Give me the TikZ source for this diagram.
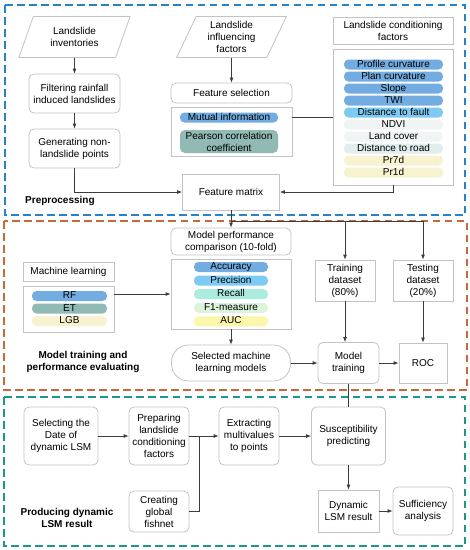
\documentclass[tikz,border=0pt]{standalone}
\usepackage{fontspec}
\setmainfont{Liberation Sans}
\usetikzlibrary{shapes.geometric,arrows.meta}
\definecolor{prepblue}{RGB}{40,130,200}
\definecolor{modelorange}{RGB}{200,105,60}
\definecolor{dynteal}{RGB}{30,150,140}
\definecolor{boxgray}{RGB}{195,195,195}
\definecolor{linegray}{RGB}{60,60,60}
\definecolor{midblue}{RGB}{115,172,225}
\definecolor{skyblue}{RGB}{125,202,242}
\definecolor{slateteal}{RGB}{145,186,180}
\definecolor{mint}{RGB}{172,236,222}
\definecolor{palegreen}{RGB}{220,243,220}
\definecolor{paleyellow}{RGB}{247,242,207}
\definecolor{lightyellow}{RGB}{250,246,172}
\definecolor{offwhite}{RGB}{240,244,244}
\definecolor{paleteal}{RGB}{224,238,236}
\tikzset{
  box/.style={draw=boxgray, fill=white, align=center, inner sep=1pt, line width=0.8pt},
  rbox/.style={box, rounded corners=5pt},
  para/.style={box, trapezium, trapezium left angle=67.5, trapezium right angle=112.5,
    trapezium stretches=true},
  pill/.style={rounded corners=4.5pt, inner sep=0pt, minimum height=10pt,
    text height=7.3pt, text depth=2.2pt},
  stage/.style={dash pattern=on 7.5pt off 4.5pt, line width=1.3pt},
  sectiontitle/.style={font=\bfseries, align=center, inner sep=0pt},
  arr/.style={draw=linegray, line width=0.8pt, -{Latex[length=5pt,width=4pt]}},
  conn/.style={draw=linegray, line width=0.8pt}
}
\begin{document}
\begin{tikzpicture}[x=1pt, y=-1pt]
  \useasboundingbox (0,0) rectangle (470,550);
  % dashed stages
  \draw[stage, prepblue] (5,5) rectangle (465,215);
  \draw[stage, modelorange] (4,221) rectangle (467,390);
  \draw[stage, dynteal] (4,397) rectangle (465,546);

  % preprocessing
  \node[para, minimum width=112, minimum height=41] (inv) at (74.5,37) {Landslide\\inventories};
  \node[rbox, minimum width=91, minimum height=39] (filt) at (74.5,93.5) {Filtering rainfall\\induced landslides};
  \node[rbox, minimum width=91, minimum height=39] (gen) at (74.5,148.5) {Generating non-\\landslide points};
  \node[box, minimum width=97, minimum height=36] (fm) at (231,192) {Feature matrix};
  \node[para, minimum width=110, minimum height=41] (infl) at (231.5,37) {Landslide\\influencing\\factors};
  \node[rbox, minimum width=121, minimum height=20] (fsel) at (231.5,93) {Feature selection};
  \node[box, minimum width=121, minimum height=49] (fsbox) at (231.5,131.5) {};
  \node[pill, fill=midblue, minimum width=98] (mi) at (229,117.5) {Mutual information};
  \node[rounded corners=5pt, fill=slateteal, align=center, inner sep=0pt,
    minimum width=98, minimum height=23] (pcc) at (229,141.5) {Pearson correlation\\coefficient};
  \node[box, minimum width=120, minimum height=27] (lcf) at (393,30.5) {Landslide conditioning\\factors};
  \node[box, minimum width=120, minimum height=136] (lcfbox) at (393,117) {};
  \begin{scope}[every node/.style={pill, minimum width=99}]
    \foreach \name/\col [count=\i] in {Profile curvature/midblue, Plan curvature/midblue,
        Slope/midblue, TWI/midblue, Distance to fault/skyblue, NDVI/offwhite,
        Land cover/offwhite, Distance to road/paleteal, Pr7d/paleyellow, Pr1d/paleyellow}
      \node[fill=\col] (f\i) at (393.5,{52.5+12*\i}) {\name};
  \end{scope}
  \node[sectiontitle, anchor=west] (t1) at (25,201) {Preprocessing};

  % model training
  \node[rbox, minimum width=120, minimum height=27] (mpc) at (231,241.5) {Model performance\\comparison (10-fold)};
  \node[box, minimum width=120, minimum height=70] (mbox) at (231,294) {};
  \begin{scope}[every node/.style={pill, minimum width=74}]
    \foreach \name/\col [count=\i] in {Accuracy/midblue, Precision/skyblue,
        Recall/mint, F1-measure/palegreen, AUC/lightyellow}
      \node[fill=\col] (m\i) at (231,{253.4+13.6*\i}) {\name};
  \end{scope}
  \node[box, minimum width=91, minimum height=19] (ml) at (68.5,271.5) {Machine learning};
  \node[box, minimum width=91, minimum height=46] (mlbox) at (68.5,309) {};
  \begin{scope}[every node/.style={pill, minimum width=75}]
    \foreach \name/\col [count=\i] in {RF/midblue, ET/slateteal, LGB/paleyellow}
      \node[fill=\col] (a\i) at (69.5,{283.5+12.5*\i}) {\name};
  \end{scope}
  \node[box, rounded corners=17pt, minimum width=119, minimum height=36] (sel) at (231,363) {Selected machine\\learning models};
  \node[rbox, minimum width=61, minimum height=41] (mtr) at (348.5,363) {Model\\training};
  \node[box, minimum width=48, minimum height=40] (roc) at (423,363) {ROC};
  \node[box, minimum width=60, minimum height=41] (train) at (345,280.5) {Training\\dataset\\(80\%)};
  \node[box, minimum width=60, minimum height=41] (test) at (423,280.5) {Testing\\dataset\\(20\%)};
  \node[sectiontitle] (t2) at (83,361.5) {Model training and\\performance evaluating};

  % dynamic LSM
  \node[rbox, minimum width=74, minimum height=58] (date) at (61,436) {Selecting the\\Date of\\dynamic LSM};
  \node[rbox, minimum width=60, minimum height=58] (prep) at (159,436) {Preparing\\landslide\\conditioning\\factors};
  \node[rbox, minimum width=60, minimum height=41] (fish) at (159,511.5) {Creating\\global\\fishnet};
  \node[rbox, minimum width=60, minimum height=58] (extr) at (249,436) {Extracting\\multivalues\\to points};
  \node[rbox, minimum width=74, minimum height=58] (susc) at (348.5,436) {Susceptibility\\predicting};
  \node[box, minimum width=61, minimum height=42] (dyn) at (348.5,511) {Dynamic\\LSM result};
  \node[rbox, minimum width=60, minimum height=48] (suff) at (423,511) {Sufficiency\\analysis};
  \node[sectiontitle] (t3) at (67,518) {Producing dynamic\\LSM result};

  \coordinate (fork) at (231,221);
  \coordinate (join) at (199,436);
  \begin{scope}[every edge/.style={arr}]
    \path (inv) edge (filt);
    \path (filt) edge (gen);
    \path (infl) edge (fsel);
    \path (fm) edge (mpc);
    \path (mbox) edge (sel);
    \path (sel) edge (mtr);
    \path (mtr) edge (roc);
    \path (test) edge (roc);
    \path (date) edge (prep);
    \path (prep) edge (extr);
    \path (extr) edge (susc);
    \path (susc) edge (dyn);
    \path (dyn) edge (suff);
  \end{scope}
  \draw[arr] (gen.south) |- (fm.west);
  \draw[arr] (lcfbox.south) |- (fm.east);
  \draw[conn] (lcfbox.west) -- (lcfbox.west -| fsbox.east);
  \draw[arr] (fork) -| (test.north);
  \draw[arr] (fork -| train.north) -- (train.north);
  \draw[arr] (train.south) -- (train.south |- mtr.north);
  \draw[arr] (mlbox.east |- mbox.west) -- (mbox.west);
  \draw[conn] (mtr.south) -- (susc.north);
  \draw[conn] (fish.east) -| (join);
\end{tikzpicture}
\end{document}
